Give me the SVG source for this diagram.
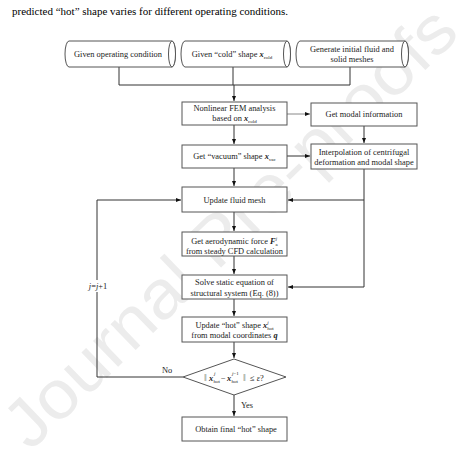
<svg xmlns="http://www.w3.org/2000/svg" width="474" height="463" viewBox="0 0 474 463" font-family="'Liberation Serif', 'Times New Roman', serif">
<style>
text{font-family:"Liberation Serif","Times New Roman",serif;fill:#1a1a1a;}
.t{font-size:8.4px;text-anchor:middle;}
.f{font-size:8.4px;}
.m{font-weight:bold;font-style:italic;}
.s{font-size:5px;}
.box{fill:#fff;stroke:#555;stroke-width:1;}
.cyl{fill:#fff;stroke:#555;stroke-width:1;}
.ln{fill:none;stroke:#333;stroke-width:1;}
.wm{font-family:"Liberation Sans",Arial,sans-serif;font-size:68px;fill:#ececec;}
</style>
<defs>
<marker id="ah" viewBox="0 0 10 10" refX="10" refY="5" markerWidth="5" markerHeight="5" orient="auto" markerUnits="userSpaceOnUse">
<path d="M0,1 L10,5 L0,9 z" fill="#111"/>
</marker>
</defs>
<rect width="474" height="463" fill="#fff"/>
<text class="wm" x="30" y="452" transform="rotate(-44 30 452)" textLength="600" lengthAdjust="spacingAndGlyphs">Journal Pre-proofs</text>
<text x="12" y="15" style="font-size:11px;fill:#000;" textLength="276" lengthAdjust="spacingAndGlyphs">predicted “hot” shape varies for different operating conditions.</text>

<g id="connectors">
<path class="ln" d="M119,67 V85 M233,67 V85 M350,67 V85 M119,85 H350"/>
<path class="ln" d="M234,85 V101" marker-end="url(#ah)"/>
<path class="ln" d="M287,114 H310" marker-end="url(#ah)" style="stroke:#888"/>
<path class="ln" d="M234,125 V144" marker-end="url(#ah)"/>
<path class="ln" d="M364,126 V143" marker-end="url(#ah)"/>
<path class="ln" d="M287,156 H310" marker-end="url(#ah)"/>
<path class="ln" d="M234,168 V186" marker-end="url(#ah)"/>
<path class="ln" d="M364,169 V287"/>
<path class="ln" d="M364,200 H288" marker-end="url(#ah)"/>
<path class="ln" d="M364,287 H288" marker-end="url(#ah)"/>
<path class="ln" d="M234,212 V231" marker-end="url(#ah)"/>
<path class="ln" d="M234,256 V274" marker-end="url(#ah)"/>
<path class="ln" d="M234,299 V316" marker-end="url(#ah)"/>
<path class="ln" d="M234,342 V358" marker-end="url(#ah)"/>
<path class="ln" d="M234,395 V416" marker-end="url(#ah)"/>
<path class="ln" d="M183,377 H97 V292 M97,280 V200 H181" marker-end="url(#ah)"/>
<text class="t" x="98" y="289"><tspan font-style="italic">j</tspan>=<tspan font-style="italic">j</tspan>+1</text>
<text class="t" x="167" y="373">No</text>
<text class="t" x="247" y="408">Yes</text>
</g>

<g id="cyl-operating">
<path class="cyl" d="M69,41 H172 A3.5,13 0 0 1 172,67 H69 A4,13 0 0 1 69,41 Z"/>
<ellipse class="cyl" cx="172" cy="54" rx="3.5" ry="13"/>
<text class="t" x="118" y="57">Given operating condition</text>
</g>
<g id="cyl-cold">
<path class="cyl" d="M185,41 H287 A3.5,13 0 0 1 287,67 H185 A4,13 0 0 1 185,41 Z"/>
<ellipse class="cyl" cx="287" cy="54" rx="3.5" ry="13"/>
<text class="t" x="232" y="57">Given “cold” shape <tspan class="m">x</tspan><tspan class="s" dy="2">cold</tspan></text>
</g>
<g id="cyl-mesh">
<path class="cyl" d="M300,41 H405 A3.5,13 0 0 1 405,67 H300 A4,13 0 0 1 300,41 Z"/>
<ellipse class="cyl" cx="405" cy="54" rx="3.5" ry="13"/>
<text class="t" x="352" y="52">Generate initial fluid and</text>
<text class="t" x="352" y="62">solid meshes</text>
</g>

<g id="fem">
<rect class="box" x="182" y="102" width="105" height="23"/>
<text class="t" x="234.5" y="111">Nonlinear FEM analysis</text>
<text class="t" x="234.5" y="121">based on <tspan class="m">x</tspan><tspan class="s" dy="2">cold</tspan></text>
</g>
<g id="modal">
<rect class="box" x="311" y="103" width="106" height="23"/>
<text class="t" x="364" y="117">Get modal information</text>
</g>
<g id="vacuum">
<rect class="box" x="182" y="145" width="105" height="23"/>
<text class="t" x="234.5" y="159">Get “vacuum” shape <tspan class="m">x</tspan><tspan class="s" dy="2">vac</tspan></text>
</g>
<g id="interp">
<rect class="box" x="311" y="144" width="106" height="25"/>
<text class="t" x="364" y="154.5">Interpolation of centrifugal</text>
<text class="t" x="364" y="164.5">deformation and modal shape</text>
</g>
<g id="fluidmesh">
<rect class="box" x="182" y="187" width="105" height="25"/>
<text class="t" x="234.5" y="203">Update fluid mesh</text>
</g>
<g id="aero">
<rect class="box" x="182" y="232" width="105" height="24"/>
<text class="t" x="234.5" y="243.5">Get aerodynamic force <tspan class="m">F</tspan><tspan class="s" dy="2">a</tspan><tspan class="s" font-style="italic" dx="-2" dy="-6">j</tspan></text>
<text class="t" x="234.5" y="253.5">from steady CFD calculation</text>
</g>
<g id="solve">
<rect class="box" x="182" y="275" width="105" height="24"/>
<text class="t" x="234.5" y="285">Solve static equation of</text>
<text class="t" x="234.5" y="296">structural system  (Eq. (8))</text>
</g>
<g id="hot">
<rect class="box" x="182" y="317" width="105" height="25"/>
<text class="t" x="234.5" y="327.5">Update “hot” shape <tspan class="m">x</tspan><tspan class="s" dy="2">hot</tspan><tspan class="s" font-style="italic" dx="-6.4" dy="-6">j</tspan></text>
<text class="t" x="234.5" y="338">from modal coordinates <tspan class="m">q</tspan></text>
</g>
<g id="decision">
<path class="box" d="M234,359 L286,377 L234,395 L183,377 Z"/>
<text class="f" x="204" y="381" style="fill:#777;font-size:10px;">‖</text>
<text class="f m" x="209" y="381">x</text>
<text class="s" x="213.5" y="383">hot</text>
<text class="s" x="214" y="375" font-style="italic">j</text>
<text class="f" x="221" y="381">−</text>
<text class="f m" x="227" y="381">x</text>
<text class="s" x="231.5" y="383">hot</text>
<text class="s" x="232" y="375"><tspan font-style="italic">j</tspan>−1</text>
<text class="f" x="243" y="381" style="fill:#777;font-size:10px;">‖</text>
<text class="f" x="250" y="381">≤ <tspan font-style="italic">ε</tspan>?</text>
</g>
<g id="final">
<rect class="box" x="182" y="417" width="105" height="24"/>
<text class="t" x="236" y="432">Obtain final “hot” shape</text>
</g>
</svg>
